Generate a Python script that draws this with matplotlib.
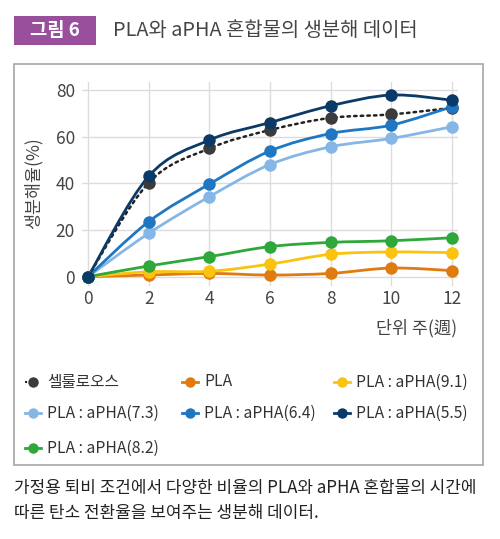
import numpy as np
import matplotlib
matplotlib.use('Agg')
import matplotlib.pyplot as plt
from matplotlib.path import Path
from matplotlib.patches import PathPatch, Rectangle
from matplotlib.lines import Line2D

plt.rcParams['font.family'] = ['Noto Sans CJK KR', 'DejaVu Sans']

# 데이터 (주 단위)
weeks = [0, 2, 4, 6, 8, 10, 12]
cellulose = [0, 40.3, 55.0, 62.9, 68.1, 69.6, 72.4]
pla = [0, 0.7, 1.4, 0.7, 1.4, 3.7, 2.6]
pla_91 = [0, 2.1, 2.3, 5.4, 9.6, 10.6, 10.3]
pla_82 = [0, 4.6, 8.6, 12.9, 14.7, 15.4, 16.7]
pla_73 = [0, 18.6, 34.3, 48.1, 55.7, 59.3, 64.3]
pla_64 = [0, 23.6, 39.7, 53.9, 61.4, 65.0, 72.9]
pla_55 = [0, 43.1, 58.6, 66.1, 73.3, 77.9, 75.7]

labels = ['셀룰로오스', 'PLA', 'PLA : aPHA(9.1)', 'PLA : aPHA(7.3)',
          'PLA : aPHA(6.4)', 'PLA : aPHA(5.5)', 'PLA : aPHA(8.2)']
colors = {'셀룰로오스': '#3b3b3b', 'PLA': '#e07b12', 'PLA : aPHA(9.1)': '#f9c30f',
          'PLA : aPHA(7.3)': '#86b6e5', 'PLA : aPHA(6.4)': '#1f77c2',
          'PLA : aPHA(5.5)': '#0c3a68', 'PLA : aPHA(8.2)': '#2ea83a'}
series = {'셀룰로오스': cellulose, 'PLA': pla, 'PLA : aPHA(9.1)': pla_91,
          'PLA : aPHA(8.2)': pla_82, 'PLA : aPHA(7.3)': pla_73,
          'PLA : aPHA(6.4)': pla_64, 'PLA : aPHA(5.5)': pla_55}
draw_order = ['셀룰로오스', 'PLA', 'PLA : aPHA(9.1)', 'PLA : aPHA(8.2)',
              'PLA : aPHA(7.3)', 'PLA : aPHA(6.4)', 'PLA : aPHA(5.5)']


def smooth_path(x, y):
    # 부드러운 곡선 (Catmull-Rom -> 베지어)
    pts = np.column_stack([x, y]).astype(float)
    n = len(pts)
    verts = [pts[0]]
    codes = [Path.MOVETO]
    for i in range(n - 1):
        p0 = pts[max(i - 1, 0)]
        p1 = pts[i]
        p2 = pts[i + 1]
        p3 = pts[min(i + 2, n - 1)]
        verts += [p1 + (p2 - p0) / 6, p2 - (p3 - p1) / 6, p2]
        codes += [Path.CURVE4] * 3
    return Path(verts, codes)


W, H = 500, 539
fig = plt.figure(figsize=(W / 100, H / 100), dpi=100)


def fx(px):
    return px / W


def fy(py):
    return 1 - py / H


# 바깥 박스
fig.patches.append(Rectangle((fx(14), fy(465)), fx(483) - fx(14), fy(64) - fy(465),
                             transform=fig.transFigure, fill=False,
                             edgecolor='#a5a5a5', lw=1.2))
# 제목
fig.patches.append(Rectangle((fx(14), fy(45)), fx(96) - fx(14), fy(16) - fy(45),
                             transform=fig.transFigure, facecolor='#9a4f9c',
                             edgecolor='none'))
fig.text(fx(55), fy(30.5), '그림 6', color='white', fontsize=13.5, fontweight='bold',
         ha='center', va='center')
fig.text(fx(113), fy(31), 'PLA와 aPHA 혼합물의 생분해 데이터', color='#444444',
         fontsize=14.3, ha='left', va='center')

ax = fig.add_axes([fx(82), fy(286), fx(458) - fx(82), fy(82) - fy(286)])
for name in draw_order:
    c = colors[name]
    ls = ':' if name == '셀룰로오스' else '-'
    lc = '#222222' if name == '셀룰로오스' else c
    lw = 1.8 if name == '셀룰로오스' else 2.0
    ax.add_patch(PathPatch(smooth_path(weeks, series[name]), fill=False,
                           edgecolor=lc, lw=lw, linestyle=ls, capstyle='round'))
    ax.plot(weeks, series[name], linestyle='none', marker='o', markersize=9,
            color=c, markeredgewidth=0)

ax.set_xlim(-0.2, 12.2)
ax.set_ylim(-4, 83.5)
ax.set_xticks(weeks)
ax.set_yticks([0, 20, 40, 60, 80])
ax.grid(True, color='#dcdcdc', lw=1)
ax.set_axisbelow(True)
for s in ax.spines.values():
    s.set_visible(False)
ax.tick_params(length=0, labelsize=12.5, labelcolor='#444444')
ax.tick_params(axis='y', pad=5)
ax.tick_params(axis='x', pad=3)

fig.text(fx(33), fy(183), '생분해율(%)', rotation=90, fontsize=12.5,
         color='#444444', ha='center', va='center')
fig.text(fx(457), fy(328), '단위 주(週)', fontsize=12.5, color='#444444',
         ha='right', va='center')

# 범례
leg_pos = [(33, 382), (190, 382), (342, 382),
           (33, 413), (190, 413), (342, 413),
           (33, 448)]
for name, (mx, my) in zip(labels, leg_pos):
    c = colors[name]
    if name == '셀룰로오스':
        fig.add_artist(Line2D([fx(mx - 8), fx(mx + 8)], [fy(my), fy(my)],
                              transform=fig.transFigure, color='#222222',
                              lw=1.5, linestyle=':'))
    else:
        fig.add_artist(Line2D([fx(mx - 8), fx(mx + 8)], [fy(my), fy(my)],
                              transform=fig.transFigure, color=c, lw=2))
    fig.add_artist(Line2D([fx(mx)], [fy(my)], transform=fig.transFigure,
                          marker='o', markersize=7.5, color=c,
                          markeredgewidth=0, linestyle='none'))
    fig.text(fx(mx + 14), fy(my), name, fontsize=11.3, color='#333333',
             ha='left', va='center')

# 설명
fig.text(fx(14), fy(488), '가정용 퇴비 조건에서 다양한 비율의 PLA와 aPHA 혼합물의 시간에',
         fontsize=12.2, color='#222222', ha='left', va='center')
fig.text(fx(14), fy(513), '따른 탄소 전환율을 보여주는 생분해 데이터.',
         fontsize=12.2, color='#222222', ha='left', va='center')

fig.savefig('out.png', dpi=100)
